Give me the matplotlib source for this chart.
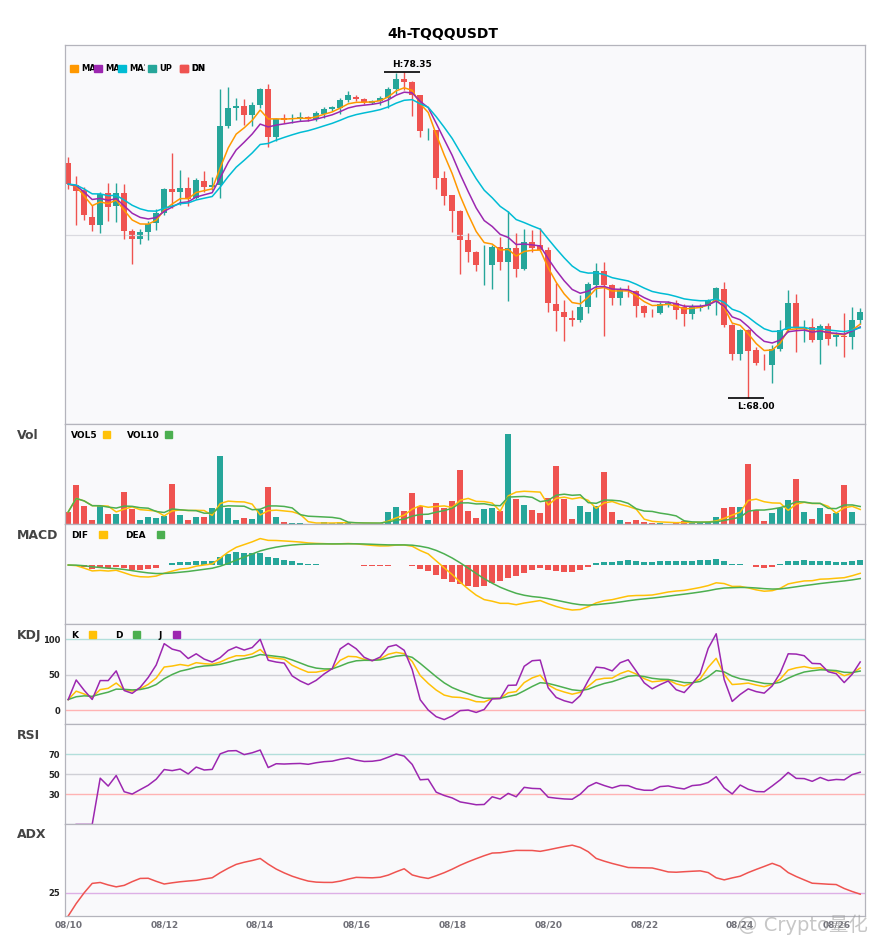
import numpy as np
import pandas as pd
import matplotlib
matplotlib.use('Agg')
import matplotlib.pyplot as plt
from matplotlib.patches import Patch
from matplotlib.transforms import Bbox, TransformedBbox

plt.rcParams['font.family'] = ['DejaVu Sans', 'Noto Sans CJK SC']

# 4h candles, 08/10 00:00 onward
open_ = [75.44, 74.76, 74.58, 73.75, 73.48, 74.50, 74.07, 74.50, 73.29, 73.03,
         73.26, 73.54, 73.87, 74.61, 74.53, 74.66, 74.34, 74.87, 74.69, 74.74,
         76.63, 77.20, 77.25, 76.99, 77.28, 77.79, 76.28, 76.87, 76.84, 76.86,
         76.91, 76.86, 77.01, 77.16, 77.21, 77.44, 77.56, 77.48, 77.37, 77.41,
         77.51, 77.79, 78.11, 78.02, 77.60, 76.49, 76.49, 74.97, 74.42, 73.91,
         72.99, 72.62, 72.20, 72.20, 72.78, 72.30, 72.75, 72.07, 72.93, 72.86,
         72.69, 70.96, 70.73, 70.53, 70.45, 70.89, 71.59, 72.01, 71.56, 71.16,
         71.40, 71.38, 70.92, 70.69, 70.68, 70.96, 71.01, 70.87, 70.64, 70.85,
         70.92, 71.03, 71.45, 70.29, 69.39, 70.15, 69.51, 69.07, 69.04, 69.55,
         70.13, 70.99, 70.18, 70.25, 69.84, 70.26, 69.92, 69.95, 69.92, 70.45]
high = [75.63, 75.04, 74.69, 74.10, 74.53, 74.82, 74.82, 74.77, 73.36, 73.34,
        73.60, 73.98, 74.66, 75.76, 75.22, 74.99, 74.97, 75.21, 74.99, 77.79,
        77.86, 77.50, 77.47, 77.39, 77.84, 77.95, 76.88, 77.00, 77.00, 77.06,
        76.93, 77.10, 77.22, 77.26, 77.52, 77.73, 77.60, 77.52, 77.46, 77.57,
        77.87, 78.30, 78.35, 78.06, 77.62, 76.56, 76.51, 75.21, 74.44, 73.96,
        73.22, 72.67, 72.83, 72.83, 73.10, 73.92, 73.22, 73.35, 73.31, 73.40,
        72.78, 71.63, 71.11, 70.77, 71.27, 71.67, 72.26, 72.29, 71.61, 71.52,
        71.57, 71.43, 70.95, 70.82, 71.03, 71.08, 71.10, 70.98, 70.98, 70.98,
        71.14, 71.51, 71.66, 70.34, 70.18, 70.18, 69.60, 69.37, 69.68, 70.45,
        71.40, 71.30, 70.45, 70.53, 70.34, 70.36, 70.08, 70.69, 70.87, 70.85]
low = [74.63, 73.47, 73.63, 73.28, 73.22, 73.60, 73.57, 73.03, 72.24, 72.89,
       73.00, 73.32, 73.79, 74.02, 74.10, 74.08, 74.32, 74.53, 74.58, 74.34,
       76.56, 76.81, 76.65, 76.63, 77.20, 75.96, 76.14, 76.72, 76.73, 76.77,
       76.77, 76.79, 76.88, 77.10, 77.01, 77.39, 77.43, 77.31, 77.31, 77.28,
       77.20, 77.65, 77.76, 76.94, 76.28, 76.17, 74.61, 74.10, 73.25, 71.91,
       72.29, 72.01, 71.56, 71.44, 72.04, 71.08, 71.83, 72.04, 72.62, 72.65,
       70.73, 70.11, 69.79, 70.27, 70.39, 70.67, 71.19, 69.94, 70.95, 70.95,
       71.19, 70.55, 70.55, 70.55, 70.64, 70.87, 70.50, 70.27, 70.50, 70.74,
       70.82, 70.61, 70.24, 69.20, 69.20, 68.00, 69.04, 68.86, 68.45, 69.49,
       70.08, 69.44, 69.76, 69.76, 69.05, 69.68, 69.65, 69.28, 69.55, 70.34]
close = [74.78, 74.56, 73.79, 73.48, 74.45, 74.05, 74.50, 73.29, 73.03, 73.26,
         73.50, 73.87, 74.61, 74.53, 74.66, 74.32, 74.90, 74.69, 74.74, 76.63,
         77.19, 77.25, 76.97, 77.28, 77.79, 76.28, 76.86, 76.83, 76.88, 76.91,
         76.84, 77.03, 77.16, 77.22, 77.44, 77.60, 77.47, 77.39, 77.41, 77.51,
         77.79, 78.13, 78.03, 77.60, 76.47, 76.51, 74.97, 74.40, 73.92, 72.99,
         72.62, 72.20, 72.22, 72.78, 72.30, 72.75, 72.07, 72.93, 72.75, 72.70,
         70.99, 70.74, 70.55, 70.47, 70.89, 71.61, 72.01, 71.56, 71.16, 71.40,
         71.38, 70.92, 70.68, 70.67, 70.96, 71.01, 70.79, 70.64, 70.87, 70.92,
         71.08, 71.49, 70.31, 69.39, 70.15, 69.49, 69.09, 69.05, 69.55, 70.15,
         71.01, 70.24, 70.21, 69.84, 70.26, 69.86, 69.97, 69.92, 70.45, 70.71]
volume = [3.7, 11.8, 5.5, 1.3, 5.5, 3.1, 3.1, 9.7, 4.7, 1.3,
          2.2, 1.9, 2.5, 12.1, 2.8, 1.3, 2.2, 2.2, 4.9, 20.5,
          4.9, 1.3, 1.9, 1.6, 4.3, 11.2, 2.2, 0.7, 0.4, 0.4,
          0.2, 0.2, 0.7, 0.4, 0.7, 0.4, 0.2, 0.2, 0.2, 0.4,
          3.7, 5.2, 4.1, 9.4, 5.5, 1.3, 6.4, 4.9, 7.1, 16.3,
          4.1, 1.9, 4.6, 4.9, 4.1, 27.1, 7.6, 5.8, 4.3, 3.4,
          7.9, 17.5, 7.6, 1.6, 5.5, 3.7, 5.5, 15.7, 3.7, 1.3,
          0.7, 1.3, 0.7, 0.4, 0.4, 0.2, 0.7, 1.0, 0.4, 0.7,
          0.7, 2.2, 4.9, 5.2, 5.2, 18.1, 4.3, 1.0, 3.4, 4.9,
          7.3, 13.6, 3.7, 1.6, 4.9, 3.1, 3.4, 11.8, 3.7, 0.2]

dates = pd.date_range('2023-08-10', periods=len(close), freq='4h')

UP = '#26A69A'
DN = '#EF5350'
ORANGE = '#FF9800'
PURPLE = '#9C27B0'
CYAN = '#00BCD4'
AMBER = '#FFC107'
GREEN = '#4CAF50'
BG = '#F9F9FB'
SPINE = '#B4B4BC'

df = pd.DataFrame({'open': open_, 'high': high, 'low': low, 'close': close, 'vol': volume})
x = np.arange(len(df))
colors = np.where(df['close'] >= df['open'], UP, DN)

# indicators derived from the candles
ma_fast = df['close'].ewm(span=5, adjust=False).mean()
ma_mid = df['close'].ewm(span=8, adjust=False).mean()
ma_slow = df['close'].ewm(span=14, adjust=False).mean()
vol5 = df['vol'].rolling(5, min_periods=1).mean()
vol10 = df['vol'].rolling(10, min_periods=1).mean()

dif = df['close'].ewm(span=12, adjust=False).mean() - df['close'].ewm(span=26, adjust=False).mean()
dea = dif.ewm(span=9, adjust=False).mean()
hist = dif - dea

low9 = df['low'].rolling(9, min_periods=1).min()
high9 = df['high'].rolling(9, min_periods=1).max()
rsv = (df['close'] - low9) / (high9 - low9) * 100
k = rsv.ewm(com=2, adjust=False).mean()
d = k.ewm(com=2, adjust=False).mean()
j = 3 * k - 2 * d

delta = df['close'].diff().fillna(0)
gain = delta.clip(lower=0).ewm(alpha=1 / 14, adjust=False).mean()
loss = (-delta).clip(lower=0).ewm(alpha=1 / 14, adjust=False).mean()
rsi = 100 * gain / (gain + loss)

prev_close = df['close'].shift()
tr = pd.concat([df['high'] - df['low'], (df['high'] - prev_close).abs(),
                (df['low'] - prev_close).abs()], axis=1).max(axis=1)
up_move = df['high'].diff()
down_move = -df['low'].diff()
plus_dm = pd.Series(np.where((up_move > down_move) & (up_move > 0), up_move, 0.0))
minus_dm = pd.Series(np.where((down_move > up_move) & (down_move > 0), down_move, 0.0))
atr = tr.ewm(span=14, adjust=False).mean()
pdi = 100 * plus_dm.ewm(span=14, adjust=False).mean() / atr
mdi = 100 * minus_dm.ewm(span=14, adjust=False).mean() / atr
dx = (100 * (pdi - mdi).abs() / (pdi + mdi)).fillna(0)
adx = dx.ewm(span=14, adjust=False).mean()

# figure
fig = plt.figure(figsize=(8.85, 9.5), dpi=100)
gs = fig.add_gridspec(6, 1, height_ratios=[379, 100, 100, 100, 100, 91.5], hspace=0,
                      left=65 / 885, right=865 / 885, top=1 - 45 / 950, bottom=1 - 916 / 950)
ax = fig.add_subplot(gs[0])
axv = fig.add_subplot(gs[1], sharex=ax)
axm = fig.add_subplot(gs[2], sharex=ax)
axk = fig.add_subplot(gs[3], sharex=ax)
axr = fig.add_subplot(gs[4], sharex=ax)
axa = fig.add_subplot(gs[5], sharex=ax)
all_axes = [ax, axv, axm, axk, axr, axa]

for a in all_axes:
    a.set_facecolor(BG)
    for s in a.spines.values():
        s.set_color(SPINE)
        s.set_linewidth(0.9)
    a.tick_params(length=0, labelsize=6, labelcolor='#222')
    if a is not axa:
        a.tick_params(labelbottom=False)

# candles
ax.vlines(x, df['low'], df['high'], colors=colors, linewidth=1)
body = (df['close'] - df['open']).abs().clip(lower=0.02)
ax.bar(x, body, bottom=df[['open', 'close']].min(axis=1), width=0.7, color=colors, linewidth=0)
ax.plot(x, ma_fast, color=ORANGE, lw=1.1)
ax.plot(x, ma_mid, color=PURPLE, lw=1.1)
ax.plot(x, ma_slow, color=CYAN, lw=1.1)

hi, lo = df['high'].max(), df['low'].min()
pad = (hi - lo) * 0.082
ax.set_ylim(lo - pad, hi + pad)
ax.set_yticks([(hi + lo) / 2])
ax.set_yticklabels([])
ax.grid(axis='y', color='#DADAE0', lw=0.9)
ax.set_xlim(-0.4, len(df) - 0.4)

ih = int(df['high'].idxmax())
il = int(df['low'].idxmin())
ax.hlines(hi, ih - 2.5, ih + 2, color='black', lw=1.2)
ax.annotate(f'H:{hi:.2f}', (ih + 1, hi), xytext=(0, 2), textcoords='offset points',
            ha='center', va='bottom', fontsize=6.5, fontweight='bold')
ax.hlines(lo, il - 2.5, il + 2, color='black', lw=1.2)
ax.annotate(f'L:{lo:.2f}', (il + 1, lo), xytext=(0, -3), textcoords='offset points',
            ha='center', va='top', fontsize=6.5, fontweight='bold')

# main legend: one small legend per entry; the MA labels are cut after "MA"
main_items = [('MA5', ORANGE), ('MA10', PURPLE), ('MA20', CYAN), ('UP', UP), ('DN', DN)]
item_px = [70, 94, 118, 148, 180]
for n, ((label, c), px) in enumerate(zip(main_items, item_px)):
    lg = ax.legend(handles=[Patch(color=c, label=label)], loc='upper left',
                   bbox_to_anchor=((px - 65) / 800, 1 - 19 / 379), frameon=False,
                   handlelength=0.9, handleheight=0.9, handletextpad=0.5,
                   borderpad=0, borderaxespad=0, prop={'size': 6, 'weight': 'bold'})
    if n < 3:
        cut = (min(item_px[n + 1], px + 26.5) - 65) / 800
        clip = TransformedBbox(Bbox([[(px - 65) / 800, 0], [cut, 1]]), ax.transAxes)
        for t in lg.get_texts():
            t.set_clip_box(clip)
            t.set_clip_on(True)
    ax.add_artist(lg)


def side_legend(a, items, pad, space):
    a.legend(handles=[Patch(color=c, label=t) for t, c in items], loc='upper left',
             ncol=len(items), markerfirst=False, frameon=False, handlelength=0.82,
             handleheight=0.82, handletextpad=pad, columnspacing=space,
             prop={'size': 6.5, 'weight': 'bold'}, borderaxespad=0.3)


# volume
axv.bar(x, df['vol'], width=0.7, color=colors, linewidth=0)
axv.plot(x, vol5, color=AMBER, lw=1.1)
axv.plot(x, vol10, color=GREEN, lw=1.1)
axv.set_ylim(0, df['vol'].max() * 1.107)
axv.set_yticks([])
side_legend(axv, [('VOL5', AMBER), ('VOL10', GREEN)], 0.55, 1.85)

# macd
axm.bar(x, hist, width=0.7, color=np.where(hist >= 0, UP, DN), linewidth=0)
axm.plot(x, dif, color=AMBER, lw=1.1)
axm.plot(x, dea, color=GREEN, lw=1.1)
mlo = min(hist.min(), dif.min(), dea.min())
mhi = max(hist.max(), dif.max(), dea.max())
axm.set_ylim(mlo - 0.2 * (mhi - mlo), mhi + 0.2 * (mhi - mlo))
axm.set_yticks([])
side_legend(axm, [('DIF', AMBER), ('DEA', GREEN)], 1.2, 2.05)

# kdj
for lvl, c in [(100, '#B2DFDB'), (50, '#D0D0D6'), (0, '#FFB3B3')]:
    axk.axhline(lvl, color=c, lw=1)
axk.plot(x, k, color=AMBER, lw=1.1)
axk.plot(x, d, color=GREEN, lw=1.1)
axk.plot(x, j, color=PURPLE, lw=1.1)
axk.set_ylim(-20, 121)
axk.set_yticks([0, 50, 100])
side_legend(axk, [('K', AMBER), ('D', GREEN), ('J', PURPLE)], 1.17, 2.05)

# rsi
for lvl, c in [(70, '#B2DFDB'), (50, '#D0D0D6'), (30, '#FFB3B3')]:
    axr.axhline(lvl, color=c, lw=1)
axr.plot(x, rsi, color=PURPLE, lw=1.1)
axr.set_ylim(0, 100)
axr.set_yticks([30, 50, 70])

# adx
axa.axhline(25, color='#DDB0E6', lw=1)
axa.plot(x, adx, color=DN, lw=1.1)
axa.set_ylim(0, 98)
axa.set_yticks([25])

for a in all_axes:
    for t in a.get_yticklabels():
        t.set_fontweight('bold')

tick_pos = [i for i, t in enumerate(dates) if t.hour == 0 and t.day % 2 == 0]
axa.set_xticks(tick_pos)
axa.set_xticklabels([dates[i].strftime('%m/%d') for i in tick_pos], fontsize=6.5,
                    fontweight='bold', color='#707078')

for a, name in [(axv, 'Vol'), (axm, 'MACD'), (axk, 'KDJ'), (axr, 'RSI'), (axa, 'ADX')]:
    a.text(-48 / 800, 1 - 11 / 100, name, transform=a.transAxes, ha='left', va='center',
           fontsize=9, fontweight='bold', color='#444')

fig.text(0.5, 1 - 34 / 950, '4h-TQQQUSDT', ha='center', va='center', fontsize=10, fontweight='bold')
fig.text(738 / 885, 1 - 925 / 950, '@ Crypto量化', ha='left', va='center', fontsize=14,
         color='#999', alpha=0.55)

fig.savefig('out.png', dpi=100)
